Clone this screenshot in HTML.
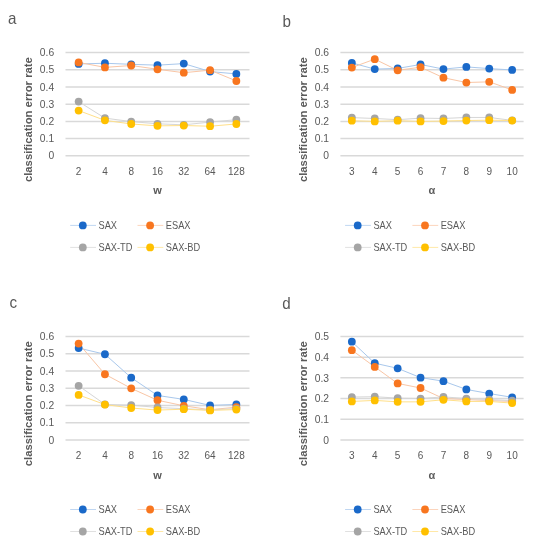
<!DOCTYPE html>
<html><head><meta charset="utf-8"><style>
html,body{margin:0;padding:0;background:#fff;}
svg{display:block;font-family:"Liberation Sans", sans-serif;will-change:transform;filter:blur(0.35px);}
</style></head><body>
<svg width="535" height="550" viewBox="0 0 535 550">
<rect width="535" height="550" fill="#fff"/>
<text transform="translate(8.0,23.6) scale(0.92,1)" font-size="16.5" fill="#595959">a</text>
<line x1="65.5" x2="249.5" y1="155.80" y2="155.80" stroke="#D9D9D9" stroke-width="1.5"/>
<text x="54.20" y="159.45" font-size="10.3" fill="#595959" text-anchor="end">0</text>
<line x1="65.5" x2="249.5" y1="138.60" y2="138.60" stroke="#D9D9D9" stroke-width="1.5"/>
<text x="54.20" y="142.25" font-size="10.3" fill="#595959" text-anchor="end">0.1</text>
<line x1="65.5" x2="249.5" y1="121.40" y2="121.40" stroke="#D9D9D9" stroke-width="1.5"/>
<text x="54.20" y="125.05" font-size="10.3" fill="#595959" text-anchor="end">0.2</text>
<line x1="65.5" x2="249.5" y1="104.20" y2="104.20" stroke="#D9D9D9" stroke-width="1.5"/>
<text x="54.20" y="107.85" font-size="10.3" fill="#595959" text-anchor="end">0.3</text>
<line x1="65.5" x2="249.5" y1="87.00" y2="87.00" stroke="#D9D9D9" stroke-width="1.5"/>
<text x="54.20" y="90.65" font-size="10.3" fill="#595959" text-anchor="end">0.4</text>
<line x1="65.5" x2="249.5" y1="69.80" y2="69.80" stroke="#D9D9D9" stroke-width="1.5"/>
<text x="54.20" y="73.45" font-size="10.3" fill="#595959" text-anchor="end">0.5</text>
<line x1="65.5" x2="249.5" y1="52.60" y2="52.60" stroke="#D9D9D9" stroke-width="1.5"/>
<text x="54.20" y="56.25" font-size="10.3" fill="#595959" text-anchor="end">0.6</text>
<text x="78.64" y="174.70" font-size="10" fill="#595959" text-anchor="middle">2</text>
<text x="104.93" y="174.70" font-size="10" fill="#595959" text-anchor="middle">4</text>
<text x="131.21" y="174.70" font-size="10" fill="#595959" text-anchor="middle">8</text>
<text x="157.50" y="174.70" font-size="10" fill="#595959" text-anchor="middle">16</text>
<text x="183.79" y="174.70" font-size="10" fill="#595959" text-anchor="middle">32</text>
<text x="210.07" y="174.70" font-size="10" fill="#595959" text-anchor="middle">64</text>
<text x="236.36" y="174.70" font-size="10" fill="#595959" text-anchor="middle">128</text>
<text x="157.50" y="194.40" font-size="11" font-weight="bold" fill="#595959" text-anchor="middle">w</text>
<text transform="translate(32.00,182.10) rotate(-90)" font-size="11.3" font-weight="bold" fill="#595959">classification error rate</text>
<polyline points="78.64,63.95 104.93,63.26 131.21,64.30 157.50,65.16 183.79,63.61 210.07,71.52 236.36,73.93" fill="none" stroke="#A9C8EC" stroke-width="1"/>
<polyline points="78.64,62.40 104.93,67.39 131.21,65.50 157.50,69.28 183.79,72.72 210.07,70.14 236.36,80.98" fill="none" stroke="#F9C6A6" stroke-width="1"/>
<polyline points="78.64,101.62 104.93,118.13 131.21,121.57 157.50,123.81 183.79,124.84 210.07,122.09 236.36,119.68" fill="none" stroke="#D6D6D6" stroke-width="1"/>
<polyline points="78.64,110.56 104.93,120.37 131.21,123.98 157.50,125.87 183.79,125.53 210.07,126.22 236.36,123.98" fill="none" stroke="#FFE08A" stroke-width="1"/>
<circle cx="78.64" cy="63.95" r="3.9" fill="#1A69C9"/>
<circle cx="104.93" cy="63.26" r="3.9" fill="#1A69C9"/>
<circle cx="131.21" cy="64.30" r="3.9" fill="#1A69C9"/>
<circle cx="157.50" cy="65.16" r="3.9" fill="#1A69C9"/>
<circle cx="183.79" cy="63.61" r="3.9" fill="#1A69C9"/>
<circle cx="210.07" cy="71.52" r="3.9" fill="#1A69C9"/>
<circle cx="236.36" cy="73.93" r="3.9" fill="#1A69C9"/>
<circle cx="78.64" cy="62.40" r="3.9" fill="#F8761F"/>
<circle cx="104.93" cy="67.39" r="3.9" fill="#F8761F"/>
<circle cx="131.21" cy="65.50" r="3.9" fill="#F8761F"/>
<circle cx="157.50" cy="69.28" r="3.9" fill="#F8761F"/>
<circle cx="183.79" cy="72.72" r="3.9" fill="#F8761F"/>
<circle cx="210.07" cy="70.14" r="3.9" fill="#F8761F"/>
<circle cx="236.36" cy="80.98" r="3.9" fill="#F8761F"/>
<circle cx="78.64" cy="101.62" r="3.9" fill="#A5A5A5"/>
<circle cx="104.93" cy="118.13" r="3.9" fill="#A5A5A5"/>
<circle cx="131.21" cy="121.57" r="3.9" fill="#A5A5A5"/>
<circle cx="157.50" cy="123.81" r="3.9" fill="#A5A5A5"/>
<circle cx="183.79" cy="124.84" r="3.9" fill="#A5A5A5"/>
<circle cx="210.07" cy="122.09" r="3.9" fill="#A5A5A5"/>
<circle cx="236.36" cy="119.68" r="3.9" fill="#A5A5A5"/>
<circle cx="78.64" cy="110.56" r="3.9" fill="#FFC000"/>
<circle cx="104.93" cy="120.37" r="3.9" fill="#FFC000"/>
<circle cx="131.21" cy="123.98" r="3.9" fill="#FFC000"/>
<circle cx="157.50" cy="125.87" r="3.9" fill="#FFC000"/>
<circle cx="183.79" cy="125.53" r="3.9" fill="#FFC000"/>
<circle cx="210.07" cy="126.22" r="3.9" fill="#FFC000"/>
<circle cx="236.36" cy="123.98" r="3.9" fill="#FFC000"/>
<line x1="70.20" x2="96.00" y1="225.40" y2="225.40" stroke="#A9C8EC" stroke-width="1" stroke-opacity="0.75"/>
<circle cx="82.80" cy="225.40" r="3.9" fill="#1A69C9"/>
<text transform="translate(98.50,228.70) scale(0.89,1)" font-size="10.4" fill="#595959">SAX</text>
<line x1="137.50" x2="163.30" y1="225.40" y2="225.40" stroke="#F9C6A6" stroke-width="1" stroke-opacity="0.75"/>
<circle cx="150.10" cy="225.40" r="3.9" fill="#F8761F"/>
<text transform="translate(165.80,228.70) scale(0.89,1)" font-size="10.4" fill="#595959">ESAX</text>
<line x1="70.20" x2="96.00" y1="247.40" y2="247.40" stroke="#D6D6D6" stroke-width="1" stroke-opacity="0.75"/>
<circle cx="82.80" cy="247.40" r="3.9" fill="#A5A5A5"/>
<text transform="translate(98.50,250.70) scale(0.89,1)" font-size="10.4" fill="#595959">SAX-TD</text>
<line x1="137.50" x2="163.30" y1="247.40" y2="247.40" stroke="#FFE08A" stroke-width="1" stroke-opacity="0.75"/>
<circle cx="150.10" cy="247.40" r="3.9" fill="#FFC000"/>
<text transform="translate(165.80,250.70) scale(0.89,1)" font-size="10.4" fill="#595959">SAX-BD</text>
<text transform="translate(282.6,26.8) scale(0.92,1)" font-size="16.5" fill="#595959">b</text>
<line x1="340.4" x2="523.6" y1="155.80" y2="155.80" stroke="#D9D9D9" stroke-width="1.5"/>
<text x="329.10" y="159.45" font-size="10.3" fill="#595959" text-anchor="end">0</text>
<line x1="340.4" x2="523.6" y1="138.60" y2="138.60" stroke="#D9D9D9" stroke-width="1.5"/>
<text x="329.10" y="142.25" font-size="10.3" fill="#595959" text-anchor="end">0.1</text>
<line x1="340.4" x2="523.6" y1="121.40" y2="121.40" stroke="#D9D9D9" stroke-width="1.5"/>
<text x="329.10" y="125.05" font-size="10.3" fill="#595959" text-anchor="end">0.2</text>
<line x1="340.4" x2="523.6" y1="104.20" y2="104.20" stroke="#D9D9D9" stroke-width="1.5"/>
<text x="329.10" y="107.85" font-size="10.3" fill="#595959" text-anchor="end">0.3</text>
<line x1="340.4" x2="523.6" y1="87.00" y2="87.00" stroke="#D9D9D9" stroke-width="1.5"/>
<text x="329.10" y="90.65" font-size="10.3" fill="#595959" text-anchor="end">0.4</text>
<line x1="340.4" x2="523.6" y1="69.80" y2="69.80" stroke="#D9D9D9" stroke-width="1.5"/>
<text x="329.10" y="73.45" font-size="10.3" fill="#595959" text-anchor="end">0.5</text>
<line x1="340.4" x2="523.6" y1="52.60" y2="52.60" stroke="#D9D9D9" stroke-width="1.5"/>
<text x="329.10" y="56.25" font-size="10.3" fill="#595959" text-anchor="end">0.6</text>
<text x="351.85" y="174.70" font-size="10" fill="#595959" text-anchor="middle">3</text>
<text x="374.75" y="174.70" font-size="10" fill="#595959" text-anchor="middle">4</text>
<text x="397.65" y="174.70" font-size="10" fill="#595959" text-anchor="middle">5</text>
<text x="420.55" y="174.70" font-size="10" fill="#595959" text-anchor="middle">6</text>
<text x="443.45" y="174.70" font-size="10" fill="#595959" text-anchor="middle">7</text>
<text x="466.35" y="174.70" font-size="10" fill="#595959" text-anchor="middle">8</text>
<text x="489.25" y="174.70" font-size="10" fill="#595959" text-anchor="middle">9</text>
<text x="512.15" y="174.70" font-size="10" fill="#595959" text-anchor="middle">10</text>
<text x="432.00" y="194.40" font-size="11" font-weight="bold" fill="#595959" text-anchor="middle">α</text>
<text transform="translate(306.90,182.10) rotate(-90)" font-size="11.3" font-weight="bold" fill="#595959">classification error rate</text>
<polyline points="351.85,62.92 374.75,69.11 397.65,68.42 420.55,64.47 443.45,69.11 466.35,66.88 489.25,68.60 512.15,69.97" fill="none" stroke="#A9C8EC" stroke-width="1"/>
<polyline points="351.85,67.56 374.75,59.14 397.65,70.32 420.55,67.22 443.45,77.71 466.35,82.53 489.25,81.84 512.15,89.92" fill="none" stroke="#F9C6A6" stroke-width="1"/>
<polyline points="351.85,117.62 374.75,118.48 397.65,119.68 420.55,118.13 443.45,118.48 466.35,117.44 489.25,117.44 512.15,120.37" fill="none" stroke="#D6D6D6" stroke-width="1"/>
<polyline points="351.85,120.71 374.75,121.40 397.65,120.71 420.55,121.40 443.45,121.06 466.35,120.54 489.25,120.20 512.15,120.54" fill="none" stroke="#FFE08A" stroke-width="1"/>
<circle cx="351.85" cy="62.92" r="3.9" fill="#1A69C9"/>
<circle cx="374.75" cy="69.11" r="3.9" fill="#1A69C9"/>
<circle cx="397.65" cy="68.42" r="3.9" fill="#1A69C9"/>
<circle cx="420.55" cy="64.47" r="3.9" fill="#1A69C9"/>
<circle cx="443.45" cy="69.11" r="3.9" fill="#1A69C9"/>
<circle cx="466.35" cy="66.88" r="3.9" fill="#1A69C9"/>
<circle cx="489.25" cy="68.60" r="3.9" fill="#1A69C9"/>
<circle cx="512.15" cy="69.97" r="3.9" fill="#1A69C9"/>
<circle cx="351.85" cy="67.56" r="3.9" fill="#F8761F"/>
<circle cx="374.75" cy="59.14" r="3.9" fill="#F8761F"/>
<circle cx="397.65" cy="70.32" r="3.9" fill="#F8761F"/>
<circle cx="420.55" cy="67.22" r="3.9" fill="#F8761F"/>
<circle cx="443.45" cy="77.71" r="3.9" fill="#F8761F"/>
<circle cx="466.35" cy="82.53" r="3.9" fill="#F8761F"/>
<circle cx="489.25" cy="81.84" r="3.9" fill="#F8761F"/>
<circle cx="512.15" cy="89.92" r="3.9" fill="#F8761F"/>
<circle cx="351.85" cy="117.62" r="3.9" fill="#A5A5A5"/>
<circle cx="374.75" cy="118.48" r="3.9" fill="#A5A5A5"/>
<circle cx="397.65" cy="119.68" r="3.9" fill="#A5A5A5"/>
<circle cx="420.55" cy="118.13" r="3.9" fill="#A5A5A5"/>
<circle cx="443.45" cy="118.48" r="3.9" fill="#A5A5A5"/>
<circle cx="466.35" cy="117.44" r="3.9" fill="#A5A5A5"/>
<circle cx="489.25" cy="117.44" r="3.9" fill="#A5A5A5"/>
<circle cx="512.15" cy="120.37" r="3.9" fill="#A5A5A5"/>
<circle cx="351.85" cy="120.71" r="3.9" fill="#FFC000"/>
<circle cx="374.75" cy="121.40" r="3.9" fill="#FFC000"/>
<circle cx="397.65" cy="120.71" r="3.9" fill="#FFC000"/>
<circle cx="420.55" cy="121.40" r="3.9" fill="#FFC000"/>
<circle cx="443.45" cy="121.06" r="3.9" fill="#FFC000"/>
<circle cx="466.35" cy="120.54" r="3.9" fill="#FFC000"/>
<circle cx="489.25" cy="120.20" r="3.9" fill="#FFC000"/>
<circle cx="512.15" cy="120.54" r="3.9" fill="#FFC000"/>
<line x1="345.10" x2="370.90" y1="225.40" y2="225.40" stroke="#A9C8EC" stroke-width="1" stroke-opacity="0.75"/>
<circle cx="357.70" cy="225.40" r="3.9" fill="#1A69C9"/>
<text transform="translate(373.40,228.70) scale(0.89,1)" font-size="10.4" fill="#595959">SAX</text>
<line x1="412.40" x2="438.20" y1="225.40" y2="225.40" stroke="#F9C6A6" stroke-width="1" stroke-opacity="0.75"/>
<circle cx="425.00" cy="225.40" r="3.9" fill="#F8761F"/>
<text transform="translate(440.70,228.70) scale(0.89,1)" font-size="10.4" fill="#595959">ESAX</text>
<line x1="345.10" x2="370.90" y1="247.40" y2="247.40" stroke="#D6D6D6" stroke-width="1" stroke-opacity="0.75"/>
<circle cx="357.70" cy="247.40" r="3.9" fill="#A5A5A5"/>
<text transform="translate(373.40,250.70) scale(0.89,1)" font-size="10.4" fill="#595959">SAX-TD</text>
<line x1="412.40" x2="438.20" y1="247.40" y2="247.40" stroke="#FFE08A" stroke-width="1" stroke-opacity="0.75"/>
<circle cx="425.00" cy="247.40" r="3.9" fill="#FFC000"/>
<text transform="translate(440.70,250.70) scale(0.89,1)" font-size="10.4" fill="#595959">SAX-BD</text>
<text transform="translate(9.6,307.8) scale(0.92,1)" font-size="16.5" fill="#595959">c</text>
<line x1="65.5" x2="249.5" y1="439.90" y2="439.90" stroke="#D9D9D9" stroke-width="1.5"/>
<text x="54.20" y="443.55" font-size="10.3" fill="#595959" text-anchor="end">0</text>
<line x1="65.5" x2="249.5" y1="422.67" y2="422.67" stroke="#D9D9D9" stroke-width="1.5"/>
<text x="54.20" y="426.32" font-size="10.3" fill="#595959" text-anchor="end">0.1</text>
<line x1="65.5" x2="249.5" y1="405.43" y2="405.43" stroke="#D9D9D9" stroke-width="1.5"/>
<text x="54.20" y="409.08" font-size="10.3" fill="#595959" text-anchor="end">0.2</text>
<line x1="65.5" x2="249.5" y1="388.20" y2="388.20" stroke="#D9D9D9" stroke-width="1.5"/>
<text x="54.20" y="391.85" font-size="10.3" fill="#595959" text-anchor="end">0.3</text>
<line x1="65.5" x2="249.5" y1="370.97" y2="370.97" stroke="#D9D9D9" stroke-width="1.5"/>
<text x="54.20" y="374.62" font-size="10.3" fill="#595959" text-anchor="end">0.4</text>
<line x1="65.5" x2="249.5" y1="353.73" y2="353.73" stroke="#D9D9D9" stroke-width="1.5"/>
<text x="54.20" y="357.38" font-size="10.3" fill="#595959" text-anchor="end">0.5</text>
<line x1="65.5" x2="249.5" y1="336.50" y2="336.50" stroke="#D9D9D9" stroke-width="1.5"/>
<text x="54.20" y="340.15" font-size="10.3" fill="#595959" text-anchor="end">0.6</text>
<text x="78.64" y="458.80" font-size="10" fill="#595959" text-anchor="middle">2</text>
<text x="104.93" y="458.80" font-size="10" fill="#595959" text-anchor="middle">4</text>
<text x="131.21" y="458.80" font-size="10" fill="#595959" text-anchor="middle">8</text>
<text x="157.50" y="458.80" font-size="10" fill="#595959" text-anchor="middle">16</text>
<text x="183.79" y="458.80" font-size="10" fill="#595959" text-anchor="middle">32</text>
<text x="210.07" y="458.80" font-size="10" fill="#595959" text-anchor="middle">64</text>
<text x="236.36" y="458.80" font-size="10" fill="#595959" text-anchor="middle">128</text>
<text x="157.50" y="478.50" font-size="11" font-weight="bold" fill="#595959" text-anchor="middle">w</text>
<text transform="translate(32.00,466.20) rotate(-90)" font-size="11.3" font-weight="bold" fill="#595959">classification error rate</text>
<polyline points="78.64,348.05 104.93,354.25 131.21,377.69 157.50,395.44 183.79,399.40 210.07,405.43 236.36,404.40" fill="none" stroke="#A9C8EC" stroke-width="1"/>
<polyline points="78.64,343.57 104.93,374.24 131.21,388.37 157.50,400.26 183.79,405.78 210.07,409.74 236.36,407.16" fill="none" stroke="#F9C6A6" stroke-width="1"/>
<polyline points="78.64,385.79 104.93,404.40 131.21,405.09 157.50,407.50 183.79,408.71 210.07,409.91 236.36,408.54" fill="none" stroke="#D6D6D6" stroke-width="1"/>
<polyline points="78.64,394.92 104.93,404.57 131.21,408.02 157.50,410.09 183.79,409.22 210.07,410.43 236.36,409.57" fill="none" stroke="#FFE08A" stroke-width="1"/>
<circle cx="78.64" cy="348.05" r="3.9" fill="#1A69C9"/>
<circle cx="104.93" cy="354.25" r="3.9" fill="#1A69C9"/>
<circle cx="131.21" cy="377.69" r="3.9" fill="#1A69C9"/>
<circle cx="157.50" cy="395.44" r="3.9" fill="#1A69C9"/>
<circle cx="183.79" cy="399.40" r="3.9" fill="#1A69C9"/>
<circle cx="210.07" cy="405.43" r="3.9" fill="#1A69C9"/>
<circle cx="236.36" cy="404.40" r="3.9" fill="#1A69C9"/>
<circle cx="78.64" cy="343.57" r="3.9" fill="#F8761F"/>
<circle cx="104.93" cy="374.24" r="3.9" fill="#F8761F"/>
<circle cx="131.21" cy="388.37" r="3.9" fill="#F8761F"/>
<circle cx="157.50" cy="400.26" r="3.9" fill="#F8761F"/>
<circle cx="183.79" cy="405.78" r="3.9" fill="#F8761F"/>
<circle cx="210.07" cy="409.74" r="3.9" fill="#F8761F"/>
<circle cx="236.36" cy="407.16" r="3.9" fill="#F8761F"/>
<circle cx="78.64" cy="385.79" r="3.9" fill="#A5A5A5"/>
<circle cx="104.93" cy="404.40" r="3.9" fill="#A5A5A5"/>
<circle cx="131.21" cy="405.09" r="3.9" fill="#A5A5A5"/>
<circle cx="157.50" cy="407.50" r="3.9" fill="#A5A5A5"/>
<circle cx="183.79" cy="408.71" r="3.9" fill="#A5A5A5"/>
<circle cx="210.07" cy="409.91" r="3.9" fill="#A5A5A5"/>
<circle cx="236.36" cy="408.54" r="3.9" fill="#A5A5A5"/>
<circle cx="78.64" cy="394.92" r="3.9" fill="#FFC000"/>
<circle cx="104.93" cy="404.57" r="3.9" fill="#FFC000"/>
<circle cx="131.21" cy="408.02" r="3.9" fill="#FFC000"/>
<circle cx="157.50" cy="410.09" r="3.9" fill="#FFC000"/>
<circle cx="183.79" cy="409.22" r="3.9" fill="#FFC000"/>
<circle cx="210.07" cy="410.43" r="3.9" fill="#FFC000"/>
<circle cx="236.36" cy="409.57" r="3.9" fill="#FFC000"/>
<line x1="70.20" x2="96.00" y1="509.50" y2="509.50" stroke="#A9C8EC" stroke-width="1" stroke-opacity="0.75"/>
<circle cx="82.80" cy="509.50" r="3.9" fill="#1A69C9"/>
<text transform="translate(98.50,512.80) scale(0.89,1)" font-size="10.4" fill="#595959">SAX</text>
<line x1="137.50" x2="163.30" y1="509.50" y2="509.50" stroke="#F9C6A6" stroke-width="1" stroke-opacity="0.75"/>
<circle cx="150.10" cy="509.50" r="3.9" fill="#F8761F"/>
<text transform="translate(165.80,512.80) scale(0.89,1)" font-size="10.4" fill="#595959">ESAX</text>
<line x1="70.20" x2="96.00" y1="531.50" y2="531.50" stroke="#D6D6D6" stroke-width="1" stroke-opacity="0.75"/>
<circle cx="82.80" cy="531.50" r="3.9" fill="#A5A5A5"/>
<text transform="translate(98.50,534.80) scale(0.89,1)" font-size="10.4" fill="#595959">SAX-TD</text>
<line x1="137.50" x2="163.30" y1="531.50" y2="531.50" stroke="#FFE08A" stroke-width="1" stroke-opacity="0.75"/>
<circle cx="150.10" cy="531.50" r="3.9" fill="#FFC000"/>
<text transform="translate(165.80,534.80) scale(0.89,1)" font-size="10.4" fill="#595959">SAX-BD</text>
<text transform="translate(282.2,308.8) scale(0.92,1)" font-size="16.5" fill="#595959">d</text>
<line x1="340.4" x2="523.6" y1="439.90" y2="439.90" stroke="#D9D9D9" stroke-width="1.5"/>
<text x="329.10" y="443.55" font-size="10.3" fill="#595959" text-anchor="end">0</text>
<line x1="340.4" x2="523.6" y1="419.22" y2="419.22" stroke="#D9D9D9" stroke-width="1.5"/>
<text x="329.10" y="422.87" font-size="10.3" fill="#595959" text-anchor="end">0.1</text>
<line x1="340.4" x2="523.6" y1="398.54" y2="398.54" stroke="#D9D9D9" stroke-width="1.5"/>
<text x="329.10" y="402.19" font-size="10.3" fill="#595959" text-anchor="end">0.2</text>
<line x1="340.4" x2="523.6" y1="377.86" y2="377.86" stroke="#D9D9D9" stroke-width="1.5"/>
<text x="329.10" y="381.51" font-size="10.3" fill="#595959" text-anchor="end">0.3</text>
<line x1="340.4" x2="523.6" y1="357.18" y2="357.18" stroke="#D9D9D9" stroke-width="1.5"/>
<text x="329.10" y="360.83" font-size="10.3" fill="#595959" text-anchor="end">0.4</text>
<line x1="340.4" x2="523.6" y1="336.50" y2="336.50" stroke="#D9D9D9" stroke-width="1.5"/>
<text x="329.10" y="340.15" font-size="10.3" fill="#595959" text-anchor="end">0.5</text>
<text x="351.85" y="458.80" font-size="10" fill="#595959" text-anchor="middle">3</text>
<text x="374.75" y="458.80" font-size="10" fill="#595959" text-anchor="middle">4</text>
<text x="397.65" y="458.80" font-size="10" fill="#595959" text-anchor="middle">5</text>
<text x="420.55" y="458.80" font-size="10" fill="#595959" text-anchor="middle">6</text>
<text x="443.45" y="458.80" font-size="10" fill="#595959" text-anchor="middle">7</text>
<text x="466.35" y="458.80" font-size="10" fill="#595959" text-anchor="middle">8</text>
<text x="489.25" y="458.80" font-size="10" fill="#595959" text-anchor="middle">9</text>
<text x="512.15" y="458.80" font-size="10" fill="#595959" text-anchor="middle">10</text>
<text x="432.00" y="478.50" font-size="11" font-weight="bold" fill="#595959" text-anchor="middle">α</text>
<text transform="translate(306.90,466.20) rotate(-90)" font-size="11.3" font-weight="bold" fill="#595959">classification error rate</text>
<polyline points="351.85,341.67 374.75,363.18 397.65,368.35 420.55,377.65 443.45,381.17 466.35,389.44 489.25,393.58 512.15,397.30" fill="none" stroke="#A9C8EC" stroke-width="1"/>
<polyline points="351.85,350.15 374.75,366.90 397.65,383.44 420.55,387.99 443.45,398.54 466.35,399.57 489.25,400.61 512.15,401.44" fill="none" stroke="#F9C6A6" stroke-width="1"/>
<polyline points="351.85,397.09 374.75,396.68 397.65,398.13 420.55,398.54 443.45,396.89 466.35,398.54 489.25,399.57 512.15,400.61" fill="none" stroke="#D6D6D6" stroke-width="1"/>
<polyline points="351.85,401.44 374.75,400.40 397.65,401.85 420.55,401.85 443.45,399.78 466.35,401.44 489.25,401.44 512.15,403.09" fill="none" stroke="#FFE08A" stroke-width="1"/>
<circle cx="351.85" cy="341.67" r="3.9" fill="#1A69C9"/>
<circle cx="374.75" cy="363.18" r="3.9" fill="#1A69C9"/>
<circle cx="397.65" cy="368.35" r="3.9" fill="#1A69C9"/>
<circle cx="420.55" cy="377.65" r="3.9" fill="#1A69C9"/>
<circle cx="443.45" cy="381.17" r="3.9" fill="#1A69C9"/>
<circle cx="466.35" cy="389.44" r="3.9" fill="#1A69C9"/>
<circle cx="489.25" cy="393.58" r="3.9" fill="#1A69C9"/>
<circle cx="512.15" cy="397.30" r="3.9" fill="#1A69C9"/>
<circle cx="351.85" cy="350.15" r="3.9" fill="#F8761F"/>
<circle cx="374.75" cy="366.90" r="3.9" fill="#F8761F"/>
<circle cx="397.65" cy="383.44" r="3.9" fill="#F8761F"/>
<circle cx="420.55" cy="387.99" r="3.9" fill="#F8761F"/>
<circle cx="443.45" cy="398.54" r="3.9" fill="#F8761F"/>
<circle cx="466.35" cy="399.57" r="3.9" fill="#F8761F"/>
<circle cx="489.25" cy="400.61" r="3.9" fill="#F8761F"/>
<circle cx="512.15" cy="401.44" r="3.9" fill="#F8761F"/>
<circle cx="351.85" cy="397.09" r="3.9" fill="#A5A5A5"/>
<circle cx="374.75" cy="396.68" r="3.9" fill="#A5A5A5"/>
<circle cx="397.65" cy="398.13" r="3.9" fill="#A5A5A5"/>
<circle cx="420.55" cy="398.54" r="3.9" fill="#A5A5A5"/>
<circle cx="443.45" cy="396.89" r="3.9" fill="#A5A5A5"/>
<circle cx="466.35" cy="398.54" r="3.9" fill="#A5A5A5"/>
<circle cx="489.25" cy="399.57" r="3.9" fill="#A5A5A5"/>
<circle cx="512.15" cy="400.61" r="3.9" fill="#A5A5A5"/>
<circle cx="351.85" cy="401.44" r="3.9" fill="#FFC000"/>
<circle cx="374.75" cy="400.40" r="3.9" fill="#FFC000"/>
<circle cx="397.65" cy="401.85" r="3.9" fill="#FFC000"/>
<circle cx="420.55" cy="401.85" r="3.9" fill="#FFC000"/>
<circle cx="443.45" cy="399.78" r="3.9" fill="#FFC000"/>
<circle cx="466.35" cy="401.44" r="3.9" fill="#FFC000"/>
<circle cx="489.25" cy="401.44" r="3.9" fill="#FFC000"/>
<circle cx="512.15" cy="403.09" r="3.9" fill="#FFC000"/>
<line x1="345.10" x2="370.90" y1="509.50" y2="509.50" stroke="#A9C8EC" stroke-width="1" stroke-opacity="0.75"/>
<circle cx="357.70" cy="509.50" r="3.9" fill="#1A69C9"/>
<text transform="translate(373.40,512.80) scale(0.89,1)" font-size="10.4" fill="#595959">SAX</text>
<line x1="412.40" x2="438.20" y1="509.50" y2="509.50" stroke="#F9C6A6" stroke-width="1" stroke-opacity="0.75"/>
<circle cx="425.00" cy="509.50" r="3.9" fill="#F8761F"/>
<text transform="translate(440.70,512.80) scale(0.89,1)" font-size="10.4" fill="#595959">ESAX</text>
<line x1="345.10" x2="370.90" y1="531.50" y2="531.50" stroke="#D6D6D6" stroke-width="1" stroke-opacity="0.75"/>
<circle cx="357.70" cy="531.50" r="3.9" fill="#A5A5A5"/>
<text transform="translate(373.40,534.80) scale(0.89,1)" font-size="10.4" fill="#595959">SAX-TD</text>
<line x1="412.40" x2="438.20" y1="531.50" y2="531.50" stroke="#FFE08A" stroke-width="1" stroke-opacity="0.75"/>
<circle cx="425.00" cy="531.50" r="3.9" fill="#FFC000"/>
<text transform="translate(440.70,534.80) scale(0.89,1)" font-size="10.4" fill="#595959">SAX-BD</text>
</svg>
</body></html>
